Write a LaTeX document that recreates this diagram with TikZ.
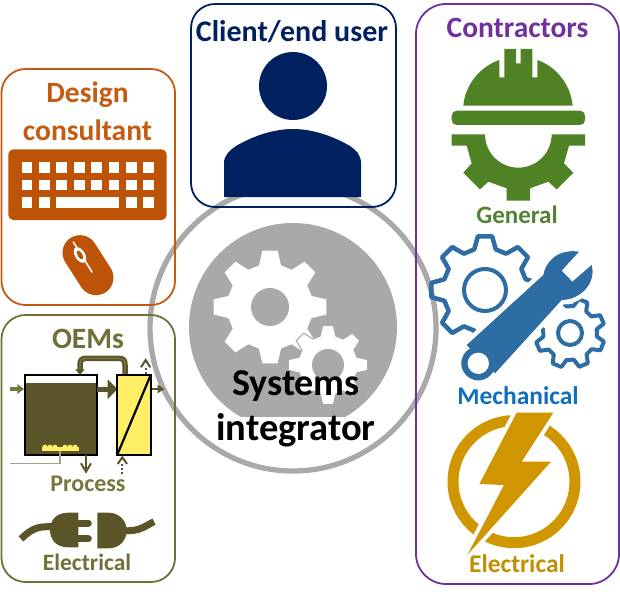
\documentclass[tikz,border=0pt]{standalone}
\usepackage{fontspec}
\setmainfont{Carlito}
\usetikzlibrary{arrows.meta}
\definecolor{cdesign}{HTML}{C55A11}
\definecolor{ckey}{HTML}{BD5307}
\definecolor{colive}{HTML}{6F6F37}
\definecolor{cdark}{HTML}{5A5428}
\definecolor{ctxtol}{HTML}{76763E}
\definecolor{cnavy}{HTML}{002060}
\definecolor{cpurple}{HTML}{7030A0}
\definecolor{cgreen}{HTML}{4E8224}
\definecolor{cgtext}{HTML}{548235}
\definecolor{cblue}{HTML}{2E6DA4}
\definecolor{cbtext}{HTML}{0F6FBE}
\definecolor{cgold}{HTML}{D09600}
\definecolor{cgoldt}{HTML}{BF9000}
\definecolor{cgray}{HTML}{A9A9A9}
\definecolor{cyell}{HTML}{FFEF66}
\newcommand{\gearshape}[7]{%
\path[#1] ({#2+#5*cos(#7-.33*360/#6)},{#3+#5*sin(#7-.33*360/#6)})
 \foreach \gi in {1,...,#6}{
  -- ({#2+#4*cos(#7+(\gi-1)*360/#6-.17*360/#6)},{#3+#4*sin(#7+(\gi-1)*360/#6-.17*360/#6)})
  -- ({#2+#4*cos(#7+(\gi-1)*360/#6+.17*360/#6)},{#3+#4*sin(#7+(\gi-1)*360/#6+.17*360/#6)})
  -- ({#2+#5*cos(#7+(\gi-1)*360/#6+.33*360/#6)},{#3+#5*sin(#7+(\gi-1)*360/#6+.33*360/#6)})
  -- ({#2+#5*cos(#7+\gi*360/#6-.33*360/#6)},{#3+#5*sin(#7+\gi*360/#6-.33*360/#6)})
 } -- cycle;}
\tikzset{
  x=1pt,y=-1pt,
  panel/.style={line width=1.8pt,rounded corners=24pt},
  lbl/.style={font=\bfseries\fontsize{#1}{#1}\selectfont,inner sep=0pt,anchor=center},
  pipe/.style={line width=5.5pt,color=cdark},
  zoomed/.style={x=0.33333pt,y=-0.33333pt}
}
\begin{document}
\begin{tikzpicture}
\useasboundingbox (0,0) rectangle (620,610);
% central ring and disk
\draw[cgray,line width=5.3pt] (293,328) circle [radius=143];
\fill[cgray] (293,327) circle [radius=104];
\fill[white] (235,417) rectangle (351,433);
% gears in the disk
\gearshape{fill=white}{270}{307}{57}{43}{8}{0}
\fill[cgray] (270,307) circle [radius=19];
\gearshape{fill=white,draw=cgray,line width=1pt}{328}{365}{40}{30}{8}{0}
\fill[cgray] (328,365) circle [radius=16];
\node[lbl=38] (sys) at (296,386) {Systems};
\node[lbl=38.5] (integ) at (296,430) {integrator};
% panels
\draw[panel,cdesign] (1.5,69) rectangle (175,305);
\draw[panel,colive] (1.5,315) rectangle (175,582);
\draw[panel,cnavy] (191,4) rectangle (396,207);
\draw[panel,cpurple,rounded corners=30pt] (416,4) rectangle (619,584);
% titles
\node[lbl=30,text=cnavy] (client) at (292,32) {Client/end user};
\node[lbl=29.5,text=cpurple] (contr) at (517.5,28) {Contractors};
\node[lbl=29.5,text=cdesign] (design) at (87.5,95) {Design};
\node[lbl=29.5,text=cdesign] (consult) at (87.5,130) {consultant};
\node[lbl=29.5,text=colive] (oems) at (88,339) {OEMs};
\node[lbl=24,text=ctxtol] (proc) at (88,484) {Process};
\node[lbl=23.5,text=colive] (elecl) at (87,562) {Electrical};
\node[lbl=25,text=cgtext] (gen) at (517,215) {General};
\node[lbl=25.5,text=cbtext] (mech) at (518,396) {Mechanical};
\node[lbl=25.5,text=cgoldt] (elecr) at (517,564) {Electrical};
% person
\fill[cnavy] (293,86) circle [radius=34];
\fill[cnavy] (224,197) -- (224,163) .. controls (224,155) and (230,150) .. (236,146) .. controls (255,135) and (275,129) .. (293,129) .. controls (311,129) and (331,135) .. (350,146) .. controls (356,150) and (361,155) .. (361,163) -- (361,197) -- cycle;
% keyboard
\begin{scope}[shift={(0,60)},zoomed]
\fill[ckey,rounded corners=5pt] (25,268) rectangle (500,480);
\foreach \kx in {65,117,169,222,274,326,378,430}{
  \fill[white] (\kx,306) rectangle +(32,32);
  \fill[white] (\kx,359) rectangle +(32,32);
}
\foreach \kx in {65,117,378,430}{\fill[white] (\kx,411) rectangle +(32,32);}
\fill[white] (169,411) rectangle (356,443);
% mouse
\draw[ckey,line width=35pt,line cap=round] (240,578) -- (288,653);
\draw[white,line width=1.6pt,line cap=round] (220,546) -- (276,636);
\fill[white,rotate around={-58:(240,585)}] (240,585) ellipse [x radius=26,y radius=15];
\fill[ckey,rotate around={-58:(240,585)}] (240,585) ellipse [x radius=15,y radius=7];
\end{scope}
% process scheme
\begin{scope}[shift={(0,350)},zoomed]
\fill[white] (74,75) rectangle (290,314);
\fill[cdark] (74,100) rectangle (290,314);
\draw[black,line width=2.2pt] (74,75) rectangle (290,314);
\fill[cyell] (125,292) rectangle (238,303);
\foreach \bx in {135,150,165,195,210,225}{\fill[cyell] (\bx,292) circle [radius=8];}
\draw[color=cdark!55!white,line width=1.6pt] (30,341) -- (180,341) -- (180,303);
\draw[pipe] (375,75) -- (375,45) .. controls (375,30) and (370,25) .. (355,25) -- (260,25) .. controls (245,25) and (240,30) .. (240,45) -- (240,62);
\draw[color=ctxtol,line width=1.4pt] (375,75) -- (375,45) .. controls (375,30) and (370,25) .. (355,25) -- (260,25) .. controls (245,25) and (240,30) .. (240,45) -- (240,62);
\fill[cdark] (226,58) -- (254,58) -- (240,75) -- cycle;
\draw[cdark,line width=5pt] (292,117) -- (325,117);
\fill[cdark] (323,88) -- (352,117) -- (323,148) -- cycle;
\draw[color=ctxtol,line width=3.5pt] (30,117) -- (55,117);
\fill[ctxtol] (52,102) -- (72,117) -- (52,132) -- cycle;
\draw[color=cdark,line width=2.4pt] (452,117) -- (480,117);
\fill[cdark] (473,104) -- (493,117) -- (473,130) -- cycle;
\draw[color=cdark,line width=1.8pt] (258,314) -- (258,358);
\draw[color=cdark,line width=2pt] (243,340) -- (258,365) -- (273,340);
\fill[cyell] (352,75) rectangle (452,314);
\draw[black,line width=2.2pt] (352,75) rectangle (452,314);
\draw[black,line width=2.2pt] (452,75) -- (352,314);
\draw[color=cdark,line width=2pt,dotted] (437,72) -- (437,48);
\draw[color=cdark,line width=2pt] (423,52) -- (437,30) -- (451,52);
\draw[color=cdark,line width=2pt,dotted] (367,372) -- (367,338);
\draw[color=cdark,line width=2pt] (353,342) -- (367,322) -- (381,342);
\end{scope}
% plug
\begin{scope}[shift={(0,310)},zoomed]
\fill[cdark] (235,608) -- (205,608) .. controls (170,608) and (150,630) .. (150,660) .. controls (150,690) and (170,712) .. (205,712) -- (235,712) -- cycle;
\draw[cdark,line width=7pt,line cap=round] (235,639) -- (265,639);
\draw[cdark,line width=7pt,line cap=round] (235,686) -- (265,686);
\draw[cdark,line width=7pt] (63,687) .. controls (100,650) and (120,650) .. (155,650);
\fill[cdark] (292,608) -- (325,608) .. controls (360,608) and (380,635) .. (380,660) .. controls (380,690) and (360,715) .. (325,715) -- (292,715) -- cycle;
\draw[cdark,line width=7pt] (375,662) .. controls (420,665) and (440,645) .. (462,635);
\end{scope}
% hard hat
\begin{scope}[shift={(420,0)},zoomed]
\fill[cgreen] (130,317) .. controls (135,255) and (180,200) .. (238,180) -- (238,232) -- (253,232) -- (253,147) -- (288,147) -- (288,190) -- (302,190) -- (302,147) -- (337,147) -- (337,232) -- (352,232) -- (352,180) .. controls (410,200) and (452,255) .. (458,317) -- cycle;
\fill[cgreen,rounded corners=5pt] (95,332) rectangle (495,375);
\fill[cgreen] (95,403) -- (195,403) arc (180:0:100 and 100) -- (495,403) -- (495,437) -- (447,437) -- (432,490) -- (460,518) -- (410,568) -- (385,545) -- (330,565) -- (330,602) -- (260,602) -- (260,565) -- (205,545) -- (180,568) -- (130,518) -- (155,490) -- (140,437) -- (95,437) -- cycle;
\end{scope}
% mechanical icon
\gearshape{draw=cblue,line width=4.5pt,line join=round}{485}{290}{54}{42}{8}{0}
\draw[cblue,line width=4pt] (485,290) circle [radius=21];
\gearshape{draw=cblue,line width=4pt,line join=round}{570}{333}{35}{27}{8}{22}
\draw[cblue,line width=4pt] (570,333) circle [radius=12];
\begin{scope}[shift={(420,0)},zoomed]
\path[fill=cblue,draw=white,line width=9pt] (140,1035) -- (370,825) .. controls (375,790) and (410,745) .. (477,755) -- (425,812) -- (457,845) -- (515,795) .. controls (530,850) and (480,900) .. (425,900) -- (225,1120) -- cycle;
\path[fill=cblue,draw=white,line width=9pt] (175,1090) circle [radius=65];
\fill[cblue] (140,1035) -- (370,825) .. controls (375,790) and (410,745) .. (477,755) -- (425,812) -- (457,845) -- (515,795) .. controls (530,850) and (480,900) .. (425,900) -- (225,1120) -- cycle;
\fill[white] (175,1090) circle [radius=32];
\end{scope}
% lightning icon
\begin{scope}[shift={(420,380)},zoomed]
\draw[cgold,line width=11pt] (282,305) circle [radius=183];
\path[fill=cgold,draw=white,line width=8pt,line join=miter] (290,98) -- (400,98) -- (305,245) -- (393,245) -- (142,525) -- (252,315) -- (178,312) -- cycle;
\fill[cgold] (290,98) -- (400,98) -- (305,245) -- (393,245) -- (142,525) -- (252,315) -- (178,312) -- cycle;
\end{scope}
\end{tikzpicture}
\end{document}
